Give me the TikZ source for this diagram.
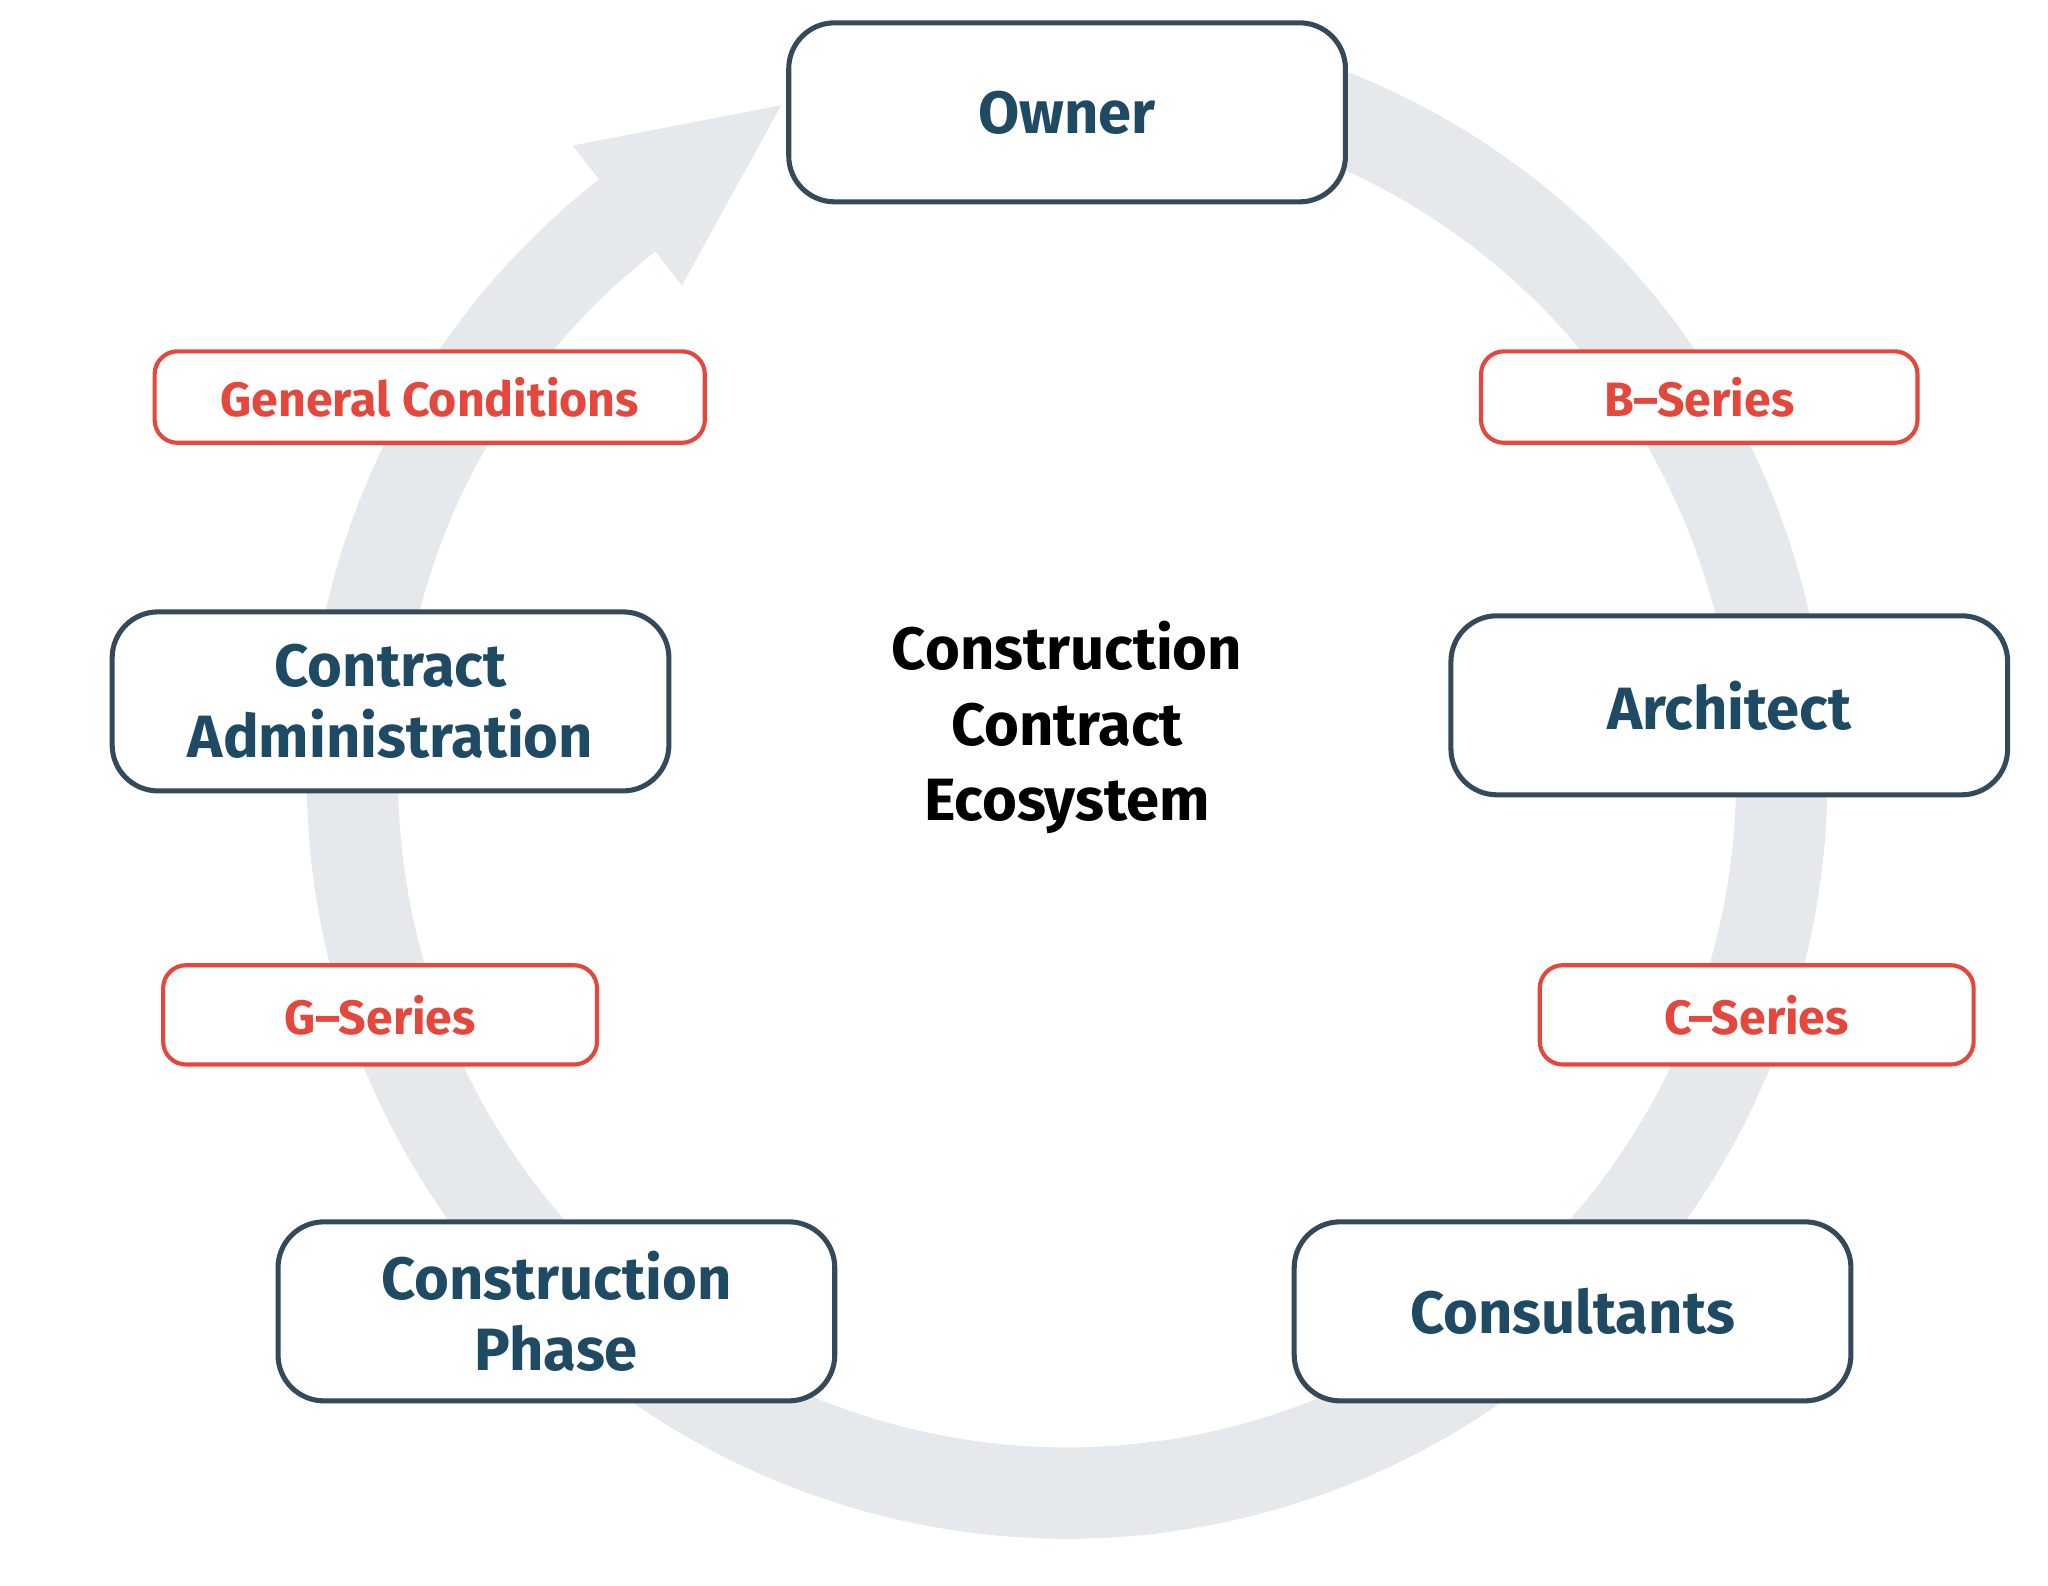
\documentclass[tikz,border=0pt]{standalone}
\usepackage{fontspec}
\setmainfont{Fira Sans}
\begin{document}
\begin{tikzpicture}[x=0.01cm,y=-0.01cm,
  bigbox/.style={draw=edge,line width=1.1pt,rounded corners=10pt,fill=white,minimum width=4.26cm,minimum height=1.37cm,align=center,font=\bfseries\fontsize{13}{15.5}\selectfont,text=navy},
  redbox/.style={draw=redc,line width=0.9pt,rounded corners=5pt,fill=white,minimum height=0.70cm,align=center,font=\bfseries\fontsize{10.5}{13}\selectfont,text=redc}]
\definecolor{navy}{HTML}{1F4A64}
\definecolor{edge}{HTML}{34495A}
\definecolor{redc}{HTML}{E4473B}
\definecolor{ring}{HTML}{E6E9EC}
\useasboundingbox (0,0) rectangle (1568,1214);
% ring
\draw[ring,line width=0.70cm] (817,596) ++(-70:547) arc[start angle=-70,end angle=232,radius=547];
\path (817,596) ++(-128:615) coordinate (a)
      (817,596) ++(-128:479) coordinate (b)
      (817,596) ++(-113:560) coordinate (c);
\fill[ring] (a) -- (c) -- (b) -- cycle;
\node[bigbox] (owner) at (817,86) {Owner};
\node[redbox,minimum width=4.21cm] (gc) at (329,304) {General Conditions};
\node[redbox,minimum width=3.34cm] (bs) at (1301,304) {B–Series};
\node[bigbox] (ca) at (299,537) {Contract\\Administration};
\node[bigbox] (arch) at (1324,540) {Architect};
\node[redbox,minimum width=3.32cm,minimum height=0.76cm] (gs) at (291,777) {G–Series};
\node[redbox,minimum width=3.32cm,minimum height=0.76cm] (cs) at (1345,777) {C–Series};
\node[bigbox] (cp) at (426,1004) {Construction\\Phase};
\node[bigbox] (cons) at (1204,1004) {Consultants};
\node[align=center,font=\bfseries\fontsize{13}{16.5}\selectfont] (ctr) at (817,557) {Construction\\Contract\\Ecosystem};
\end{tikzpicture}
\end{document}
